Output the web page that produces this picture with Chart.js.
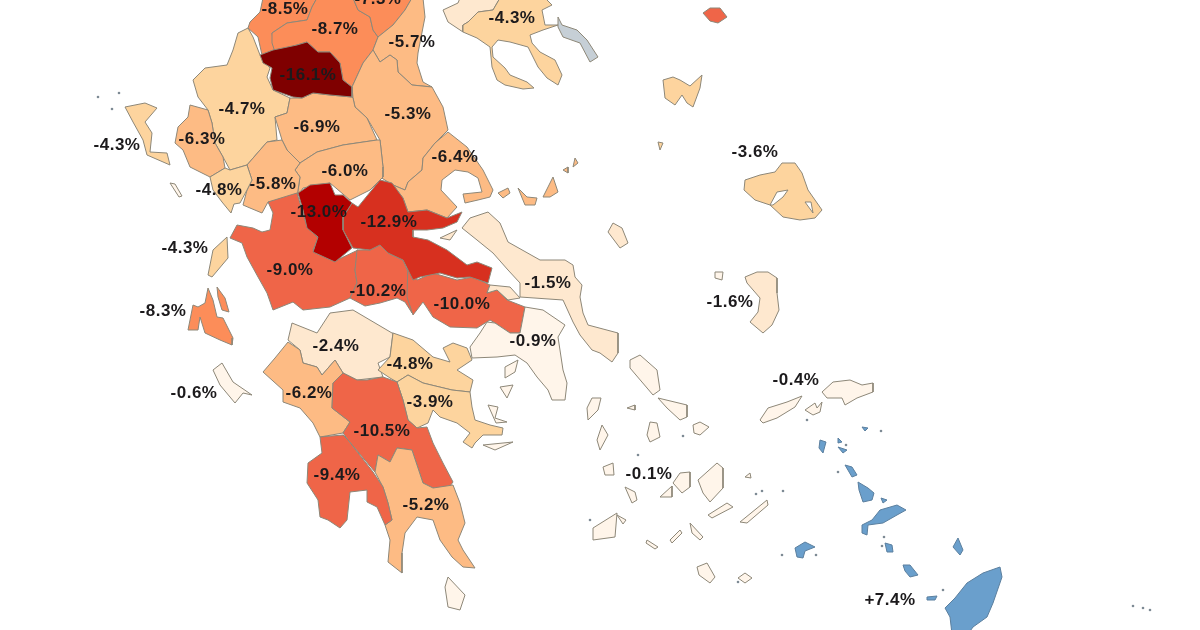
<!DOCTYPE html>
<html>
<head>
<meta charset="utf-8">
<style>
    html, body { margin: 0; padding: 0; background: #fff; }
    canvas { display: block; filter: blur(0.45px); }
</style>
<script src="https://cdn.jsdelivr.net/npm/chart.js@4"></script>
</head>
<body>
<canvas id="mappa" width="1200" height="630"></canvas>
<script>
// outlines in map units
const ioannina = [[248,28],[238,33],[233,50],[227,65],[205,68],[193,80],[198,97],[208,110],[212,123],[215,143],[223,157],[230,170],[247,165],[267,142],[277,140],[275,117],[287,113],[290,98],[273,90],[267,77],[270,68],[260,55],[253,37]];
const thesprotia = [[190,105],[208,110],[212,123],[215,143],[223,157],[225,168],[210,177],[190,167],[183,150],[175,143],[178,127],[188,117]];
const kastoria = [[263,-2],[260,12],[250,22],[248,28],[258,37],[262,55],[275,52],[272,33],[287,23],[307,20],[312,7],[317,-2]];
const kozani = [[272,33],[287,23],[307,20],[312,7],[317,-2],[353,-2],[358,10],[370,17],[373,30],[378,37],[373,50],[363,63],[352,87],[343,80],[340,63],[330,52],[318,52],[307,42],[297,45],[275,52],[272,43]];
const pella = [[353,-2],[358,10],[370,17],[373,30],[378,37],[393,25],[405,10],[412,-2]];
const pieria = [[378,37],[393,25],[405,10],[412,-2],[423,-2],[425,17],[418,53],[417,63],[423,82],[432,87],[412,85],[398,72],[397,60],[390,55],[380,62],[373,50]];
const grevena = [[260,55],[273,50],[297,45],[307,42],[318,52],[330,52],[340,63],[343,80],[352,87],[352,97],[330,95],[313,93],[302,98],[293,97],[273,90],[270,78],[272,68],[263,63]];
const larissa = [[352,87],[363,63],[373,50],[380,62],[390,55],[397,60],[398,72],[412,85],[432,87],[443,107],[448,130],[435,143],[423,158],[422,170],[408,182],[405,190],[393,185],[380,177],[383,167],[380,140],[367,118],[355,107],[353,98]];
const magnesia = [[448,132],[467,147],[483,170],[493,190],[490,197],[478,200],[465,203],[463,194],[482,192],[478,178],[468,172],[455,170],[442,180],[441,190],[457,207],[447,218],[427,210],[408,212],[403,198],[393,185],[405,190],[408,182],[422,170],[423,158],[435,143]];
const trikala = [[290,98],[287,113],[275,117],[282,140],[287,150],[300,163],[317,152],[343,145],[377,140],[367,118],[355,107],[353,98],[352,97],[330,95],[313,93],[302,98]];
const karditsa = [[300,163],[317,152],[343,145],[377,140],[380,140],[383,167],[383,177],[370,190],[350,200],[330,183],[303,188],[297,197],[300,177],[295,170]];
const arta = [[247,165],[267,142],[282,140],[287,150],[300,163],[295,170],[300,177],[297,197],[268,202],[262,213],[250,208],[243,205],[247,190],[252,180]];
const preveza = [[210,177],[225,168],[230,170],[247,165],[252,180],[247,190],[240,203],[234,204],[231,213],[222,202],[213,190]];
const aitolia = [[268,202],[297,193],[307,227],[318,238],[313,250],[337,260],[358,250],[355,270],[357,283],[350,298],[330,307],[303,310],[293,302],[273,310],[267,293],[258,277],[247,257],[242,243],[230,238],[237,225],[253,228],[262,232],[270,230],[273,213]];
const fokida = [[357,250],[370,250],[380,245],[388,253],[403,260],[408,272],[410,300],[412,313],[405,302],[397,298],[380,303],[365,306],[350,298],[357,283],[355,270]];
const boeotia = [[408,260],[417,280],[433,273],[457,280],[473,277],[490,285],[487,293],[497,290],[507,300],[525,307],[520,333],[510,333],[495,323],[490,320],[477,328],[450,327],[433,317],[423,302],[413,315],[407,297]];
const evrytania = [[298,193],[310,185],[330,183],[335,195],[343,195],[352,203],[343,217],[343,230],[352,248],[335,262],[313,252],[318,237],[307,228],[303,210]];
const fthiotida = [[343,217],[352,203],[358,207],[380,180],[392,183],[403,198],[408,212],[427,210],[447,218],[462,212],[457,222],[443,228],[427,230],[413,230],[413,237],[428,240],[447,250],[467,265],[477,262],[492,268],[488,283],[470,277],[457,278],[440,273],[420,277],[413,280],[403,260],[388,253],[380,245],[370,250],[353,248],[343,230]];
const evia = [[462,228],[470,218],[488,212],[500,223],[508,242],[540,260],[565,260],[573,265],[575,277],[582,285],[580,297],[583,313],[588,325],[618,333],[618,353],[612,362],[600,353],[592,350],[580,335],[573,322],[563,300],[520,297],[520,283],[508,270],[493,253],[477,240]];
const oropos = [[490,285],[510,287],[520,298],[508,300],[497,290],[487,293]];
const attica = [[525,307],[543,310],[565,325],[558,337],[563,370],[567,383],[565,400],[552,400],[548,390],[537,377],[527,363],[515,355],[497,357],[472,358],[470,347],[480,333],[487,322],[495,323],[510,333],[520,333]];
const achaia = [[292,323],[317,333],[330,313],[353,310],[392,333],[393,333],[390,357],[378,363],[383,377],[357,380],[343,373],[335,360],[322,375],[317,367],[303,363],[300,350],[288,340]];
const korinthia = [[393,333],[413,340],[433,357],[450,362],[443,348],[453,343],[467,348],[472,360],[457,370],[473,380],[470,392],[452,390],[423,383],[408,375],[397,382],[390,378],[378,370],[390,357]];
const argolida = [[397,382],[408,375],[423,383],[452,390],[470,392],[472,407],[475,420],[490,425],[503,428],[502,435],[483,435],[475,443],[472,448],[463,442],[470,433],[457,423],[440,417],[433,410],[428,423],[417,428],[408,420],[403,400]];
const ilia = [[288,342],[300,350],[303,363],[317,367],[322,375],[335,360],[343,373],[333,383],[332,408],[350,422],[343,433],[320,437],[313,423],[300,408],[283,402],[283,390],[263,372],[275,358]];
const arkadia = [[333,383],[343,373],[357,380],[367,380],[383,377],[397,382],[403,400],[408,420],[417,428],[427,427],[433,443],[443,463],[453,482],[447,490],[433,488],[423,483],[412,450],[397,448],[390,462],[378,455],[375,472],[348,440],[343,433],[350,422],[332,408]];
const messinia = [[320,437],[343,435],[348,440],[373,472],[383,487],[388,503],[392,520],[385,525],[377,507],[367,502],[367,490],[350,492],[347,520],[340,528],[328,520],[320,517],[318,500],[307,483],[308,463],[322,453]];
const lakonia = [[378,455],[390,462],[397,448],[412,450],[423,483],[433,488],[453,485],[460,503],[465,523],[458,540],[463,550],[475,568],[463,567],[452,557],[440,540],[433,520],[417,517],[405,533],[402,553],[402,573],[388,562],[390,540],[385,525],[392,520],[388,503],[383,487],[375,472]];
const thessaloniki = [[443,10],[458,3],[460,-2],[500,-2],[493,10],[478,12],[468,22],[463,25],[463,32],[448,22]];
const halkidiki = [[463,32],[463,25],[468,22],[478,12],[493,10],[500,-2],[545,-2],[552,5],[542,10],[545,25],[558,25],[543,30],[530,35],[532,43],[540,52],[555,60],[562,75],[558,85],[547,78],[538,67],[528,47],[510,42],[498,40],[492,47],[493,57],[505,68],[510,75],[527,82],[534,88],[523,89],[505,85],[497,80],[492,67],[490,47],[477,38]];
const athos = [[558,17],[562,25],[577,30],[587,40],[598,57],[590,62],[580,43],[563,37],[558,27]];

const corfu = [[125,107],[145,103],[157,108],[145,122],[152,133],[150,152],[167,153],[170,165],[147,155],[143,140],[133,122]];
const paxoi = [[170,183],[175,184],[182,196],[179,197]];
const lefkada = [[227,237],[228,258],[212,277],[208,275],[213,250]];
const kefalonia = [[208,288],[213,300],[217,317],[223,318],[233,338],[232,345],[220,340],[205,333],[200,317],[198,330],[188,330],[193,305],[198,307],[205,303]];
const ithaca = [[217,287],[225,298],[229,312],[222,310],[218,297]];
const zakynthos = [[213,370],[222,363],[233,382],[252,395],[243,393],[235,403],[220,385]];
const kythira = [[448,577],[465,595],[460,610],[448,607],[445,587]];
const samothraki = [[703,13],[710,8],[720,8],[727,17],[718,23],[710,21]];
const limnos = [[663,80],[673,77],[680,80],[690,86],[702,75],[700,88],[693,107],[687,103],[682,95],[675,105],[665,98]];
const lesvos = [[745,180],[760,175],[775,172],[782,163],[795,163],[802,173],[808,190],[822,210],[815,218],[800,220],[783,217],[770,205],[755,200],[744,190]];
const chios = [[745,277],[757,272],[768,272],[777,278],[777,293],[779,310],[772,325],[763,333],[750,322],[758,312],[760,298],[747,283]];
const psara = [[715,272],[723,272],[722,280],[715,278]];
const skiathos = [[498,193],[508,188],[510,193],[503,198]];
const skopelos = [[518,188],[527,197],[537,198],[535,205],[525,205]];
const alonissos = [[543,197],[553,177],[558,192],[550,197]];
const skantzoura = [[563,170],[568,167],[568,173]];
const peristera = [[575,158],[578,163],[573,167]];
const efstratios = [[658,142],[663,143],[660,150]];
const lichades = [[440,238],[457,230],[450,240]];
const skyros = [[613,223],[622,228],[628,243],[620,248],[608,232]];

const andros = [[630,360],[640,355],[657,370],[660,390],[653,395],[630,368]];
const tinos = [[658,398],[687,405],[687,417],[680,420],[667,408]];
const kea = [[587,408],[592,398],[601,398],[598,410],[588,420]];
const kythnos = [[602,425],[608,435],[600,450],[597,440]];
const gyaros = [[627,408],[635,405],[635,410]];
const syros = [[650,422],[657,423],[660,437],[650,442],[647,435]];
const mykonos = [[693,425],[700,422],[709,427],[700,435],[694,433]];
const serifos = [[603,467],[613,463],[614,475],[605,475]];
const sifnos = [[625,487],[635,492],[637,500],[632,503]];
const paros = [[673,483],[680,473],[690,472],[690,487],[682,493]];
const antiparos = [[660,497],[672,486],[672,497]];
const naxos = [[698,480],[717,463],[723,468],[723,488],[710,502],[703,493]];
const koufonisia = [[708,515],[727,503],[733,507],[712,518]];
const donousa = [[745,477],[750,473],[751,478]];
const amorgos = [[740,522],[767,500],[768,505],[747,523]];
const milos = [[593,528],[617,513],[615,537],[593,540]];
const kimolos = [[617,515],[626,520],[623,524]];
const folegandros = [[647,540],[658,547],[655,549],[646,543]];
const sikinos = [[670,540],[680,530],[682,533],[672,543]];
const ios = [[690,523],[703,537],[700,540],[692,533]];
const santorini = [[697,567],[707,563],[715,577],[710,583],[699,575]];
const anafi = [[738,578],[745,573],[752,578],[745,583]];
const ikaria = [[760,420],[768,408],[787,402],[802,396],[795,407],[777,418],[763,423]];
const samos = [[822,392],[833,382],[850,380],[862,385],[873,383],[873,392],[857,398],[845,405],[842,398],[827,398]];
const fournoi = [[805,410],[815,403],[817,408],[822,402],[820,412],[813,415]];
const aegina = [[505,367],[518,360],[515,372],[505,378]];
const poros = [[500,387],[513,385],[507,398]];
const hydra = [[488,405],[498,407],[495,418],[507,422],[496,423]];
const spetses = [[483,445],[513,442],[495,450]];

const patmos = [[820,440],[826,442],[823,453],[819,448]];
const lipsi = [[838,438],[842,442],[838,443]];
const arki = [[838,447],[847,450],[843,453]];
const agathonisi = [[862,427],[868,428],[865,431]];
const leros = [[845,465],[852,467],[857,475],[852,477]];
const kalymnos = [[858,482],[868,488],[874,493],[872,500],[863,502],[859,490]];
const pserimos = [[881,498],[887,500],[883,503]];
const kos = [[862,525],[872,520],[880,510],[897,505],[906,510],[897,515],[883,523],[868,525],[867,535],[862,533]];
const astypalea = [[795,548],[805,542],[815,547],[805,551],[803,558],[797,557]];
const nisyros = [[885,543],[892,545],[893,552],[887,552]];
const tilos = [[903,565],[910,565],[918,575],[910,577],[905,571]];
const symi = [[953,547],[958,538],[963,550],[960,555]];
const halki = [[927,597],[937,596],[935,600],[927,600]];
const rhodes = [[945,608],[955,598],[967,583],[983,573],[1000,567],[1002,577],[993,603],[987,617],[973,627],[968,634],[952,634],[950,617]];

// gulfs cut out of Lesvos
const gulfKalloni = [[770,205],[777,192],[788,190],[783,197],[773,205]];
const gulfGera = [[805,202],[811,202],[813,213]];

// tiny rocks too small to outline
const rocksX = [98,119,112,683,807,1143,1150,1133,782,816,884,882,943,838,846,881,756,783,738,762,638,590];
const rocksY = [97,93,109,436,420,608,610,606,555,555,537,546,590,472,445,431,494,491,582,491,455,520];

// mapped outlines, and the % change each one carries (null = no data)
const outlines = [
    ioannina, thesprotia, kastoria, kozani, pella, pieria, larissa, magnesia, trikala, karditsa,
    arta, preveza, aitolia, fokida, boeotia, fthiotida, evrytania, grevena, evia, oropos, attica,
    achaia, korinthia, argolida, ilia, arkadia, lakonia, messinia, thessaloniki, halkidiki, athos,
    corfu, paxoi, lefkada, kefalonia, ithaca, zakynthos, kythira, samothraki, limnos, lesvos, chios,
    psara, skiathos, skopelos, alonissos, skantzoura, peristera, efstratios, lichades, skyros,
    andros, tinos, kea, kythnos, gyaros, syros, mykonos, serifos, sifnos, paros, antiparos, naxos,
    koufonisia, donousa, amorgos, milos, kimolos, folegandros, sikinos, ios, santorini, anafi,
    ikaria, samos, fournoi, aegina, poros, hydra, spetses,
    patmos, lipsi, arki, agathonisi, leros, kalymnos, pserimos, kos, astypalea, nisyros, tilos, symi, halki, rhodes
];
const outlineValues = [
    -4.7, -6.3, -8.5, -8.7, -7.3, -5.7, -5.3, -6.4, -6.9, -6.0,
    -5.8, -4.8, -9.0, -10.2, -10.0, -12.9, -13.0, -16.1, -1.5, -1.5, -0.9,
    -2.4, -4.8, -3.9, -6.2, -10.5, -5.2, -9.4, -1.5, -4.3, null,
    -4.3, -0.5, -4.3, -8.3, -8.3, -0.6, -0.5, -10.0, -4.3, -3.6, -1.6,
    -0.5, -6.4, -6.4, -6.4, -6.4, -6.4, -4.3, -1.5, -1.5,
    -0.1, -0.1, -0.1, -0.1, -0.1, -0.1, -0.1, -0.1, -0.1, -0.1, -0.1, -0.1,
    -0.1, -0.1, -0.1, -0.1, -0.1, -0.1, -0.1, -0.1, -0.1, -0.1,
    -0.4, -0.4, -0.4, -0.9, -0.9, -0.9, -0.9,
    7.4, 7.4, 7.4, 7.4, 7.4, 7.4, 7.4, 7.4, 7.4, 7.4, 7.4, 7.4, 7.4, 7.4
];

const labelTexts = ["-8.5%","-8.7%","-7.3%","-5.7%","-4.3%","-16.1%","-4.7%","-5.3%","-6.9%","-6.3%","-4.3%","-6.4%","-3.6%","-6.0%","-4.8%","-5.8%","-13.0%","-12.9%","-4.3%","-9.0%","-1.5%","-10.2%","-10.0%","-1.6%","-8.3%","-0.9%","-2.4%","-4.8%","-0.4%","-0.6%","-6.2%","-3.9%","-10.5%","-0.1%","-9.4%","-5.2%","+7.4%"];
const labelX = [285,335,378,412,512,308,242,408,317,202,117,455,755,345,219,273,319,389,185,290,548,378,462,730,163,533,336,410,796,194,309,430,382,649,337,426,890];
const labelY = [9,29,-1,42,18,75,109,114,127,139,145,157,152,171,190,184,212,222,248,270,283,291,304,302,311,341,346,364,380,393,393,402,431,474,475,505,600];

function coloreDa(valore) {
    if (valore === null) return "#c6cfd6";
    if (valore > 0) return "#6a9fcc";
    if (valore > -1) return "#fff5ea";
    if (valore > -3) return "#fee8cf";
    if (valore > -5) return "#fdd49e";
    if (valore > -7) return "#fdbb84";
    if (valore > -9) return "#fc8d59";
    if (valore > -12) return "#ef6548";
    if (valore > -13) return "#d7301f";
    if (valore > -15) return "#b30000";
    return "#7f0000";
}

function daCoppie(coppie) {
    const punti = coppie.map((c) => ({ x: c[0], y: c[1] }));
    punti.push({ x: coppie[0][0], y: coppie[0][1] });
    return punti;
}

function poligono(coppie, riempimento, bordo) {
    return {
        data: daCoppie(coppie),
        showLine: true,
        fill: "shape",
        tension: 0,
        pointRadius: 0,
        borderWidth: 1,
        borderColor: bordo,
        backgroundColor: riempimento
    };
}

const datasets = outlines.map((o, i) => {
    const blu = outlineValues[i] > 0;
    return poligono(o, coloreDa(outlineValues[i]), blu ? "#5b7f9e" : "#8d8778");
});
datasets.push(poligono(gulfKalloni, "#ffffff", "#8d8778"));
datasets.push(poligono(gulfGera, "#ffffff", "#8d8778"));
datasets.push({
    data: rocksX.map((x, i) => ({ x: x, y: rocksY[i] })),
    showLine: false,
    pointRadius: 1.3,
    pointBorderWidth: 0,
    pointBackgroundColor: "#7d8a94"
});
// Chart.js paints the first dataset last, so flip to keep later shapes on top
datasets.reverse();

const etichette = {
    id: "etichette",
    afterDatasetsDraw(chart) {
        const c = chart.ctx;
        c.save();
        c.font = "bold 17px 'Liberation Sans'";
        c.letterSpacing = "0.5px";
        c.textAlign = "center";
        c.textBaseline = "middle";
        c.fillStyle = "#1c1a1c";
        labelTexts.forEach((t, i) => {
            c.fillText(t, chart.scales.x.getPixelForValue(labelX[i]), chart.scales.y.getPixelForValue(labelY[i]));
        });
        c.restore();
    }
};

new Chart(document.getElementById("mappa").getContext("2d"), {
    type: "scatter",
    data: { datasets: datasets },
    plugins: [etichette],
    options: {
        responsive: false,
        animation: false,
        layout: { padding: 0, autoPadding: false },
        plugins: { legend: { display: false }, tooltip: { enabled: false }, title: { display: false } },
        scales: {
            x: { type: "linear", min: 0, max: 1200, display: false },
            y: { type: "linear", min: 0, max: 630, reverse: true, display: false }
        }
    }
});
</script>
</body>
</html>
